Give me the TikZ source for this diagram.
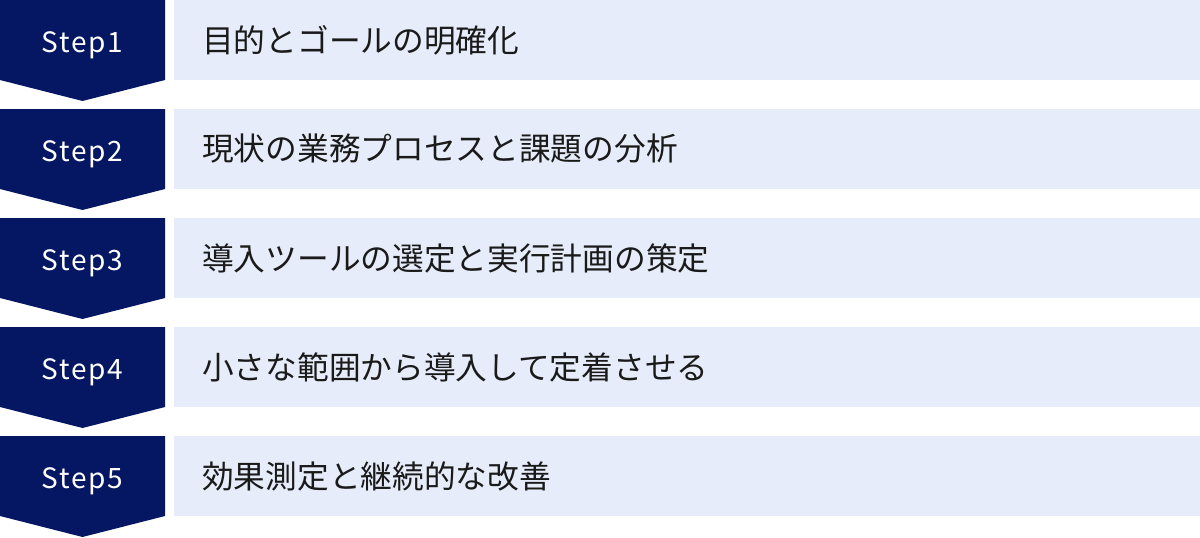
\documentclass[tikz,border=0pt]{standalone}
\usepackage{fontspec}
\setmainfont{Noto Sans CJK JP}
\newfontfamily\stepfont[LetterSpace=6]{Noto Sans CJK JP}
\usepackage{tikz}
\definecolor{navy}{RGB}{5,23,98}
\definecolor{paleblue}{RGB}{230,236,249}
\definecolor{ink}{RGB}{26,26,26}
\tikzset{
	steplabel/.style={text=white, anchor=base, font=\stepfont\fontsize{28}{28}\selectfont, inner sep=0pt},
	steptext/.style={text=ink, anchor=west, font=\fontsize{31.7}{32}\selectfont, inner sep=0pt},
	chevron/.style={fill=navy},
	textbar/.style={fill=paleblue}
}

\begin{document}
\begin{tikzpicture}[x=1pt,y=-1pt]
		\useasboundingbox (0,0) rectangle (1200,538);
		% step 1
		\fill [chevron] (0,0) -- (165,0) -- (165,80) -- (82.5,101) -- (0,80) -- cycle;
		\fill [textbar] (174,0) rectangle (1200,80);
		\node [steplabel] (s1) at (82.5,52) {Step1};
		\node [steptext] (t1) at (202,40) {目的とゴールの明確化};
		% step 2
		\fill [chevron] (0,109) -- (165,109) -- (165,189) -- (82.5,210) -- (0,189) -- cycle;
		\fill [textbar] (174,109) rectangle (1200,189);
		\node [steplabel] (s2) at (82.5,161) {Step2};
		\node [steptext] (t2) at (202,149) {現状の業務プロセスと課題の分析};
		% step 3
		\fill [chevron] (0,218) -- (165,218) -- (165,298) -- (82.5,319) -- (0,298) -- cycle;
		\fill [textbar] (174,218) rectangle (1200,298);
		\node [steplabel] (s3) at (82.5,270) {Step3};
		\node [steptext] (t3) at (202,258) {導入ツールの選定と実行計画の策定};
		% step 4
		\fill [chevron] (0,327) -- (165,327) -- (165,407) -- (82.5,428) -- (0,407) -- cycle;
		\fill [textbar] (174,327) rectangle (1200,407);
		\node [steplabel] (s4) at (82.5,379) {Step4};
		\node [steptext] (t4) at (202,367) {小さな範囲から導入して定着させる};
		% step 5
		\fill [chevron] (0,436) -- (165,436) -- (165,516) -- (82.5,537) -- (0,516) -- cycle;
		\fill [textbar] (174,436) rectangle (1200,516);
		\node [steplabel] (s5) at (82.5,488) {Step5};
		\node [steptext] (t5) at (202,476) {効果測定と継続的な改善};
	\end{tikzpicture}
\end{document}
